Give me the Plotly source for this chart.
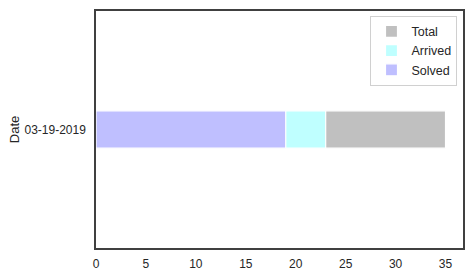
import plotly.graph_objects as go

dates = ["03-19-2019"]
total = [35]
arrived = [23]
solved = [19]

series = [("Total", total, "#c0c0c0"), ("Arrived", arrived, "#bfffff"), ("Solved", solved, "#bfbfff")]

fig = go.Figure()
for name, vals, col in series:
    fig.add_trace(go.Bar(
        x=vals, y=[0], orientation="h", name=name, width=0.5,
        marker=dict(color=col, line=dict(color="white", width=1.2)),
    ))

fig.update_layout(
    width=474, height=277,
    margin=dict(l=96, r=11, t=11, b=29),
    barmode="overlay",
    plot_bgcolor="white", paper_bgcolor="white",
    font=dict(family="Liberation Sans, Arial, sans-serif", size=12, color="#262626"),
    legend=dict(x=0.985, y=0.98, xanchor="right", yanchor="top",
                bordercolor="#d0d0d0", borderwidth=1, bgcolor="white",
                font=dict(size=12.5), tracegroupgap=0),
    showlegend=True,
)
fig.update_xaxes(range=[0, 36.75], tickvals=[0, 5, 10, 15, 20, 25, 30, 35],
                 showgrid=False, zeroline=False, showline=True, mirror=True,
                 linecolor="#404040", linewidth=1.5, ticks="", ticklen=0,
                 ticklabelstandoff=4, automargin=False)
fig.update_yaxes(range=[-1.59, 1.59], tickvals=[0], ticktext=dates,
                 showgrid=False, zeroline=False, showline=True, mirror=True,
                 linecolor="#404040", linewidth=1.5, ticks="",
                 ticklabelstandoff=6, automargin=False,
                 title=dict(text="Date", font=dict(size=13), standoff=2))

fig.write_html("out.html")
